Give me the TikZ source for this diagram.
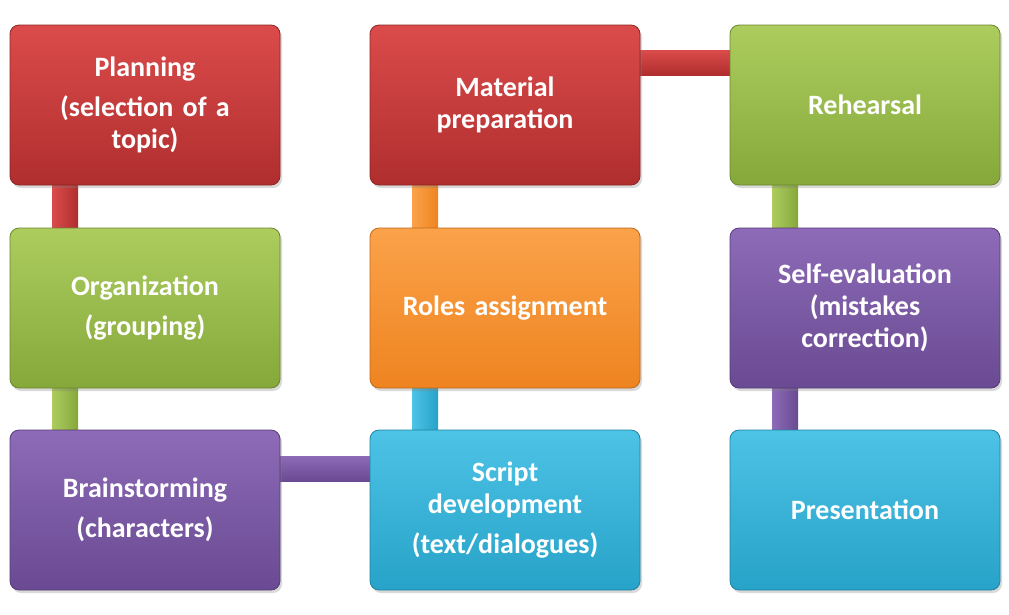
\documentclass[tikz,border=0pt]{standalone}
\usepackage{fontspec}
\setmainfont{Carlito}
\usetikzlibrary{shadows}
\definecolor{redA}{HTML}{DB4B4B}\definecolor{redB}{HTML}{B02E2E}
\definecolor{grnA}{HTML}{ACCC5E}\definecolor{grnB}{HTML}{86A83A}
\definecolor{purA}{HTML}{8D6BB8}\definecolor{purB}{HTML}{6A4A92}
\definecolor{orgA}{HTML}{FBA24A}\definecolor{orgB}{HTML}{EE8420}
\definecolor{cyaA}{HTML}{4DC3E6}\definecolor{cyaB}{HTML}{27A2C8}
\tikzset{
 box/.style n args={2}{draw=#2!80!black, line width=0.8pt, rounded corners=9pt,
   top color=#1, bottom color=#2, minimum width=270pt, minimum height=160pt,
   text=white, font=\bfseries\fontsize{28}{40}\selectfont, align=center, text width=255pt,
   drop shadow={opacity=0.3, shadow xshift=2pt, shadow yshift=-3pt}},
 vlink/.style n args={2}{left color=#1, right color=#2, draw=none},
 hlink/.style n args={2}{top color=#1, bottom color=#2, draw=none},
}
\begin{document}
\begin{tikzpicture}[x=1pt,y=-1pt]
\useasboundingbox (0,0) rectangle (1009,614);
% connectors
\fill[vlink={redA}{redB}] (52,180) rectangle (78,232);
\fill[vlink={grnA}{grnB}] (52,384) rectangle (78,434);
\fill[vlink={orgA}{orgB}] (412,180) rectangle (438,232);
\fill[vlink={cyaA}{cyaB}] (412,384) rectangle (438,434);
\fill[vlink={grnA}{grnB}] (772,180) rectangle (798,232);
\fill[vlink={purA}{purB}] (772,384) rectangle (798,434);
\fill[hlink={purA}{purB}] (275,456) rectangle (375,481);
\fill[hlink={redA}{redB}] (635,50) rectangle (735,75);
% boxes
\node[box={redA}{redB}] (plan) at (145,105) {Planning\\(selection of a\\[-8pt] topic)};
\node[box={grnA}{grnB}] (org) at (145,308) {Organization\\(grouping)};
\node[box={purA}{purB}] (brain) at (145,510) {Brainstorming\\(characters)};
\node[box={redA}{redB}] (mat) at (505,105) {Material\\[-8pt] preparation\\[12pt]};
\node[box={orgA}{orgB}] (roles) at (505,308) {Roles assignment};
\node[box={cyaA}{cyaB}] (script) at (505,510) {Script\\[-8pt] development\\(text/dialogues)};
\node[box={grnA}{grnB}] (reh) at (865,105) {Rehearsal};
\node[box={purA}{purB}] (self) at (865,308) {Self-evaluation\\[-8pt] (mistakes\\[-8pt] correction)};
\node[box={cyaA}{cyaB}] (pres) at (865,510) {Presentation};
\end{tikzpicture}
\end{document}
